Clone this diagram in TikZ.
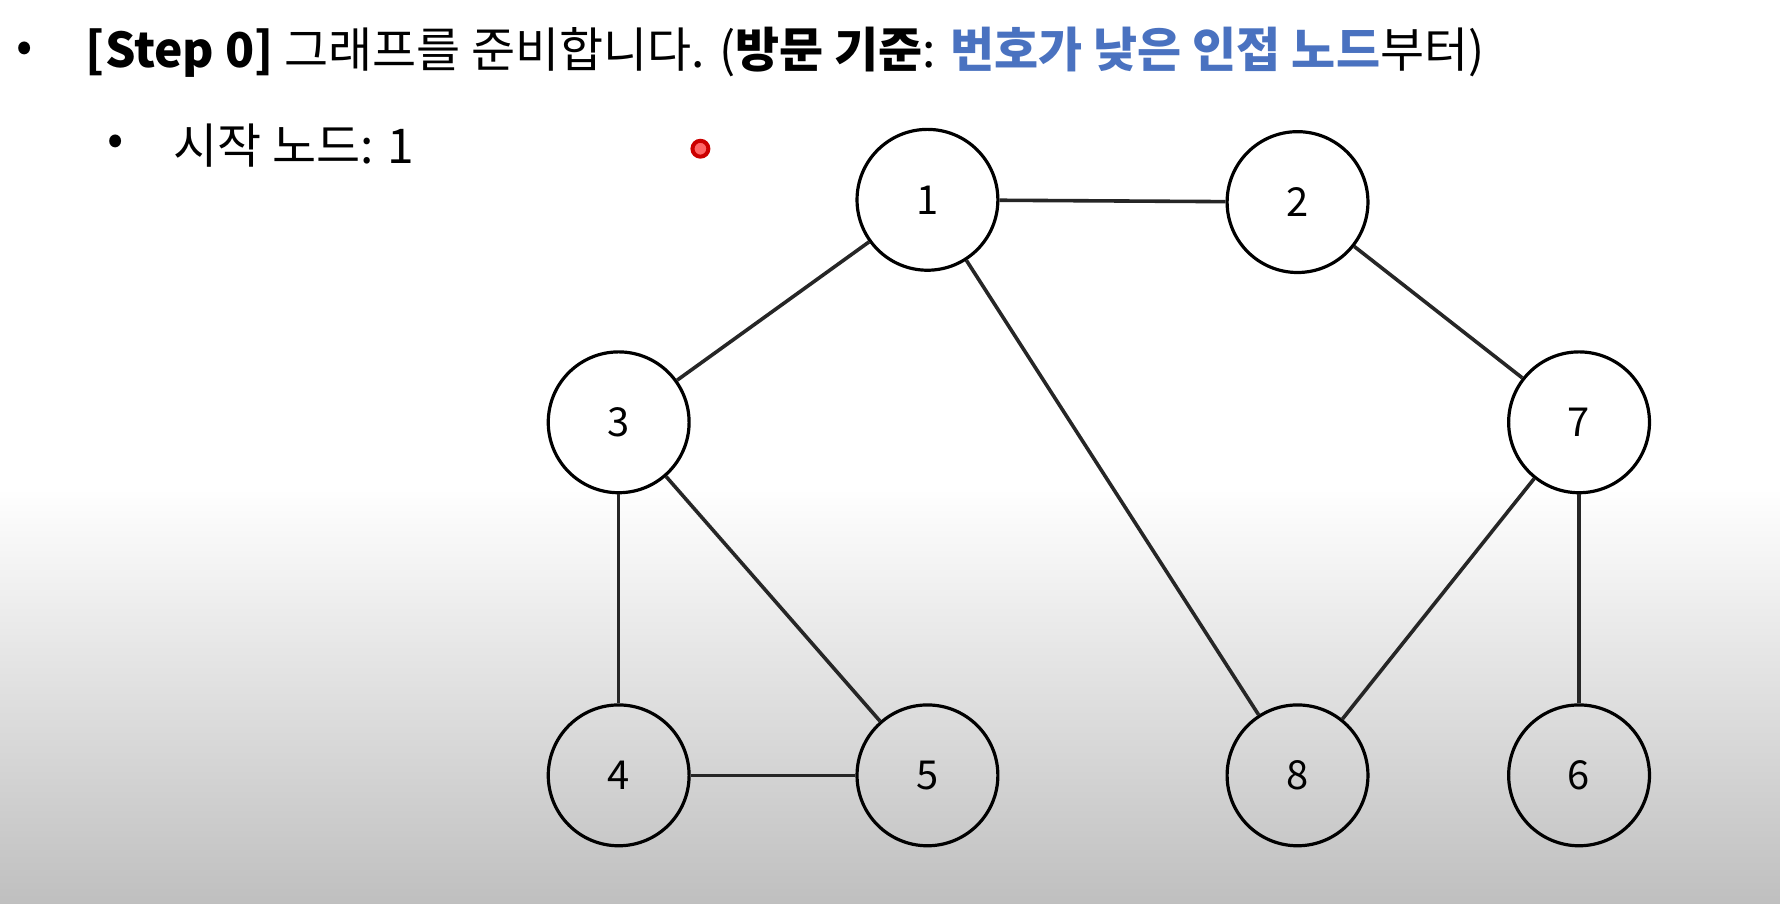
\documentclass[tikz,border=0pt]{standalone}
\usepackage{fontspec}
\setmainfont{Noto Sans CJK KR}
\begin{document}
\begin{tikzpicture}[x=0.01cm,y=-0.01cm,
  gnode/.style={circle,draw=black,line width=0.8pt,minimum size=1.24cm,inner sep=0pt,font=\fontsize{10pt}{12pt}\selectfont},
  gedge/.style={line width=0.9pt,black!85},
  txt/.style={anchor=west,inner sep=0pt,font=\fontsize{12pt}{14pt}\selectfont}]
\useasboundingbox (0,0) rectangle (1568,796);
\fill[white] (0,0) rectangle (1568,430);
\shade[top color=white,bottom color=black!25] (0,430) rectangle (1568,796);
\definecolor{kblue}{HTML}{4A72C0}
\node[txt] (b1) at (14,46) {•};
\node[txt] (t1) at (75,46) {\textbf{[Step 0]} 그래프를 준비합니다. (\textbf{방문 기준}: \textcolor{kblue}{\textbf{번호가 낮은 인접 노드}}부터)};
\node[txt] (b2) at (94,128) {•};
\node[txt] (t2) at (152,128) {시작 노드: 1};
\node[circle,fill=red!60,draw=red!80!black,line width=1pt,minimum size=0.14cm,inner sep=0pt] (dot) at (617,131) {};
\node[gnode,fill=white] (n1) at (817,176) {1};
\node[gnode,fill=white] (n2) at (1143,178) {2};
\node[gnode,fill=white] (n3) at (545,372) {3};
\node[gnode,fill=white] (n7) at (1391,372) {7};
\node[gnode,fill=none] (n4) at (545,683) {4};
\node[gnode,fill=none] (n5) at (817,683) {5};
\node[gnode,fill=none] (n8) at (1143,683) {8};
\node[gnode,fill=none] (n6) at (1391,683) {6};
\draw[gedge] (n1)--(n2);
\draw[gedge] (n1)--(n3);
\draw[gedge] (n1)--(n8);
\draw[gedge] (n2)--(n7);
\draw[gedge] (n3)--(n4);
\draw[gedge] (n3)--(n5);
\draw[gedge] (n4)--(n5);
\draw[gedge] (n7)--(n8);
\draw[gedge] (n7)--(n6);
\end{tikzpicture}
\end{document}
